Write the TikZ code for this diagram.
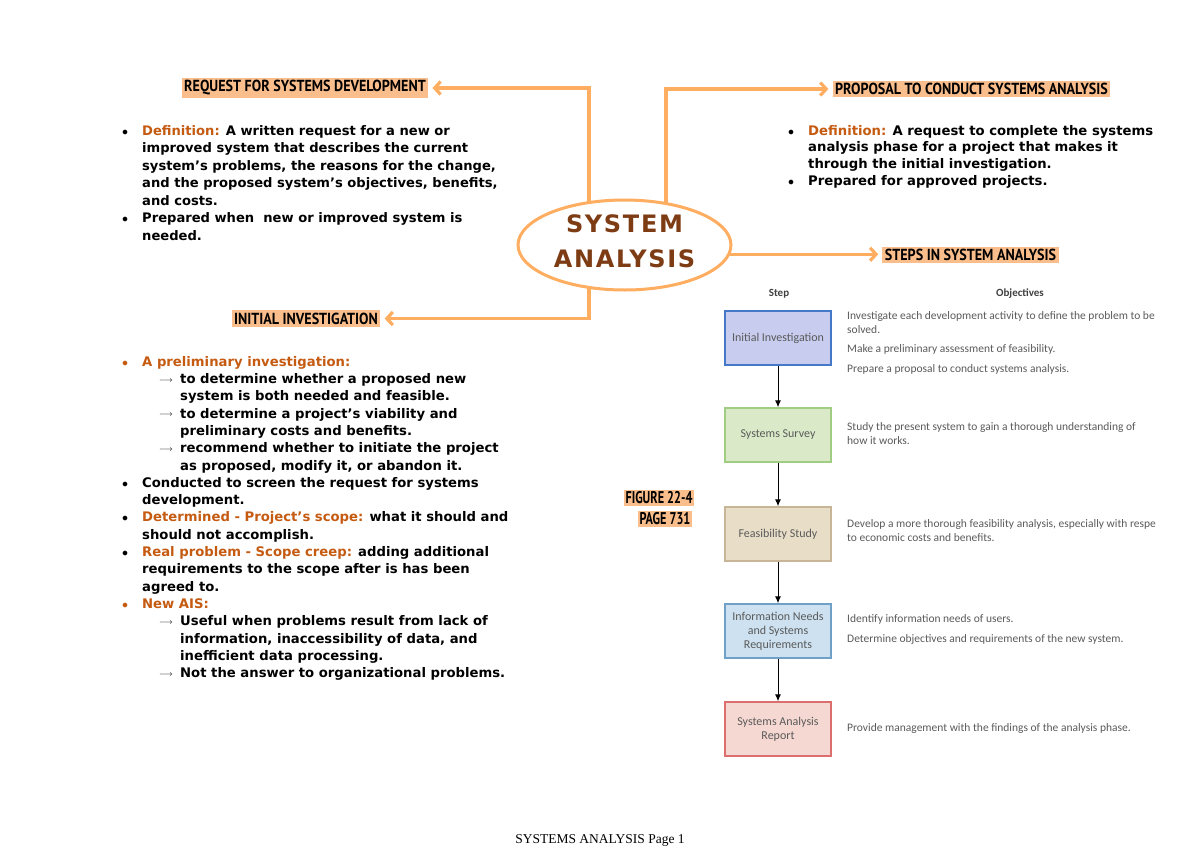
\documentclass[tikz,border=0pt]{standalone}
\usepackage{fontspec}
\setmainfont{DejaVu Sans}
\newfontfamily\headfont[FakeStretch=0.88]{PT Sans}
\newfontfamily\figfont[FakeStretch=0.72]{PT Sans}
\newfontfamily\titlefont[LetterSpace=7]{DejaVu Sans}
\newfontfamily\stepfont{Carlito}
\newfontfamily\footfont{Liberation Serif}
\usetikzlibrary{shapes.geometric, arrows.meta}

\definecolor{lineorange}{RGB}{255,173,96}
\definecolor{peach}{RGB}{250,190,140}
\definecolor{hlorange}{RGB}{197,90,17}
\definecolor{titlebrown}{RGB}{125,60,20}
\definecolor{objgray}{RGB}{90,90,90}

\newcommand{\hl}[1]{\textcolor{hlorange}{#1}}
\newcommand{\itm}{\makebox[20pt][l]{$\bullet$}}
\newcommand{\cont}{\hspace*{20pt}}
\newcommand{\subarr}{\hspace*{37pt}\makebox[21pt][l]{\raisebox{1.4pt}{\fontsize{8.5}{8.5}\selectfont$\longrightarrow$}}}
\newcommand{\subcont}{\hspace*{58pt}}

\begin{document}
\begin{tikzpicture}[x=1pt,y=-1pt]
\useasboundingbox (0,0) rectangle (1200,849);

\tikzset{tag/.style = {fill=peach, inner sep=2.5pt, font=\headfont\bfseries\fontsize{16}{16}\selectfont}}
\tikzset{figtag/.style = {fill=peach, inner sep=2pt, font=\figfont\bfseries\fontsize{17}{17}\selectfont}}
\tikzset{body/.style = {anchor=north west, inner sep=0pt, align=left}}
\tikzset{conn/.style = {draw=lineorange, line width=3.2pt, line cap=round, shorten >=4pt,
  -{Straight Barb[length=6pt,width=13pt]}}}
\tikzset{stepbox/.style = {draw, line width=1.4pt, minimum width=106pt, minimum height=54pt,
  align=center, text=objgray, font=\stepfont\fontsize{12}{14}\selectfont}}
\tikzset{obj/.style = {anchor=north west, inner sep=0pt, align=left, text=objgray,
  font=\stepfont\fontsize{11.5}{14}\selectfont}}
\tikzset{flow/.style = {->, >={Latex[length=7pt,width=6pt]}, line width=1pt}}

%centre
\node[ellipse, draw=lineorange, line width=3pt, fill=white, minimum width=213pt, minimum height=90pt,
  inner sep=0pt, text depth=8pt, align=center, text=titlebrown, font=\titlefont\bfseries\fontsize{24}{34.5}\selectfont]
  (sys) at (624.5,245) {SYSTEM\\ANALYSIS};

%headings
\node[tag] (rq) at (305,88) {REQUEST FOR SYSTEMS DEVELOPMENT};
\node[tag] (pp) at (971.5,89) {PROPOSAL TO CONDUCT SYSTEMS ANALYSIS};
\node[tag] (st) at (970.5,255) {STEPS IN SYSTEM ANALYSIS};
\node[tag] (ii) at (306,318.5) {INITIAL INVESTIGATION};

%connectors
\draw[conn] ([xshift=-35.5pt,yshift=-3pt]sys.north) |- (rq.east);
\draw[conn] ([xshift=41.5pt,yshift=-4pt]sys.north) |- (pp.west);
\draw[conn] ([xshift=-35.5pt,yshift=3pt]sys.south) |- (ii.east);
\draw[conn] (sys.-5) -- (sys.-5 -| st.west);

%texts
\node[body, font=\bfseries\fontsize{13.1}{17.5}\selectfont] (rqtext) at (122,125) {%
\itm\hl{Definition:} A written request for a new or\\
\cont improved system that describes the current\\
\cont system's problems, the reasons for the change,\\
\cont and the proposed system's objectives, benefits,\\
\cont and costs.\\
\itm Prepared when \ new or improved system is\\
\cont needed.};

\node[body, font=\bfseries\fontsize{13.2}{16.7}\selectfont] (pptext) at (788,125) {%
\itm\hl{Definition:} A request to complete the systems\\
\cont analysis phase for a project that makes it\\
\cont through the initial investigation.\\
\itm Prepared for approved projects.};

\node[body, font=\bfseries\fontsize{13.2}{17.3}\selectfont] (iitext) at (122,356) {%
{\color{hlorange}\itm A preliminary investigation:}\\
\subarr to determine whether a proposed new\\
\subcont system is both needed and feasible.\\
\subarr to determine a project's viability and\\
\subcont preliminary costs and benefits.\\
\subarr recommend whether to initiate the project\\
\subcont as proposed, modify it, or abandon it.\\
\itm Conducted to screen the request for systems\\
\cont development.\\
\itm\hl{Determined - Project's scope:} what it should and\\
\cont should not accomplish.\\
\itm\hl{Real problem - Scope creep:} adding additional\\
\cont requirements to the scope after is has been\\
\cont agreed to.\\
{\color{hlorange}\itm New AIS:}\\
\subarr Useful when problems result from lack of\\
\subcont information, inaccessibility of data, and\\
\subcont inefficient data processing.\\
\subarr Not the answer to organizational problems.};

%figure reference
\node[figtag] (fig) at (659,498) {FIGURE 22-4};
\node[figtag] (pg) at (665,519) {PAGE 731};

%steps
\node[text=black!75, font=\stepfont\bfseries\fontsize{11}{11}\selectfont] (hstep) at (779,294) {Step};
\node[text=black!75, font=\stepfont\bfseries\fontsize{11}{11}\selectfont] (hobj) at (1020,294) {Objectives};
\node[stepbox, fill={rgb,255:red,200;green,204;blue,238}, draw={rgb,255:red,70;green,120;blue,200}] (b1) at (778,338) {Initial Investigation};
\node[stepbox, fill={rgb,255:red,218;green,234;blue,200}, draw={rgb,255:red,160;green,205;blue,130}] (b2) at (778,435) {Systems Survey};
\node[stepbox, fill={rgb,255:red,232;green,222;blue,200}, draw={rgb,255:red,200;green,180;blue,150}] (b3) at (778,534) {Feasibility Study};
\node[stepbox, fill={rgb,255:red,205;green,225;blue,240}, draw={rgb,255:red,110;green,160;blue,200}] (b4) at (778,631) {Information Needs\\and Systems\\Requirements};
\node[stepbox, fill={rgb,255:red,246;green,216;blue,210}, draw={rgb,255:red,220;green,110;blue,110}] (b5) at (778,729) {Systems Analysis\\Report};
\draw[flow] (b1) -- (b2);
\draw[flow] (b2) -- (b3);
\draw[flow] (b3) -- (b4);
\draw[flow] (b4) -- (b5);

\node[obj] (o1) at (847,311) {Investigate each development activity to define the problem to be\\
solved.\\[5pt]
Make a preliminary assessment of feasibility.\\[6pt]
Prepare a proposal to conduct systems analysis.};
\node[obj] (o2) at (847,422) {Study the present system to gain a thorough understanding of\\
how it works.};
\node[obj] (o3) at (847,519) {Develop a more thorough feasibility analysis, especially with respe\\
to economic costs and benefits.};
\node[obj] (o4) at (847,614) {Identify information needs of users.\\[6pt]
Determine objectives and requirements of the new system.};
\node[obj] (o5) at (847,723) {Provide management with the findings of the analysis phase.};

%footer
\node[font=\footfont\fontsize{13.5}{13.5}\selectfont] (foot) at (600,840) {SYSTEMS ANALYSIS Page 1};

\end{tikzpicture}
\end{document}
